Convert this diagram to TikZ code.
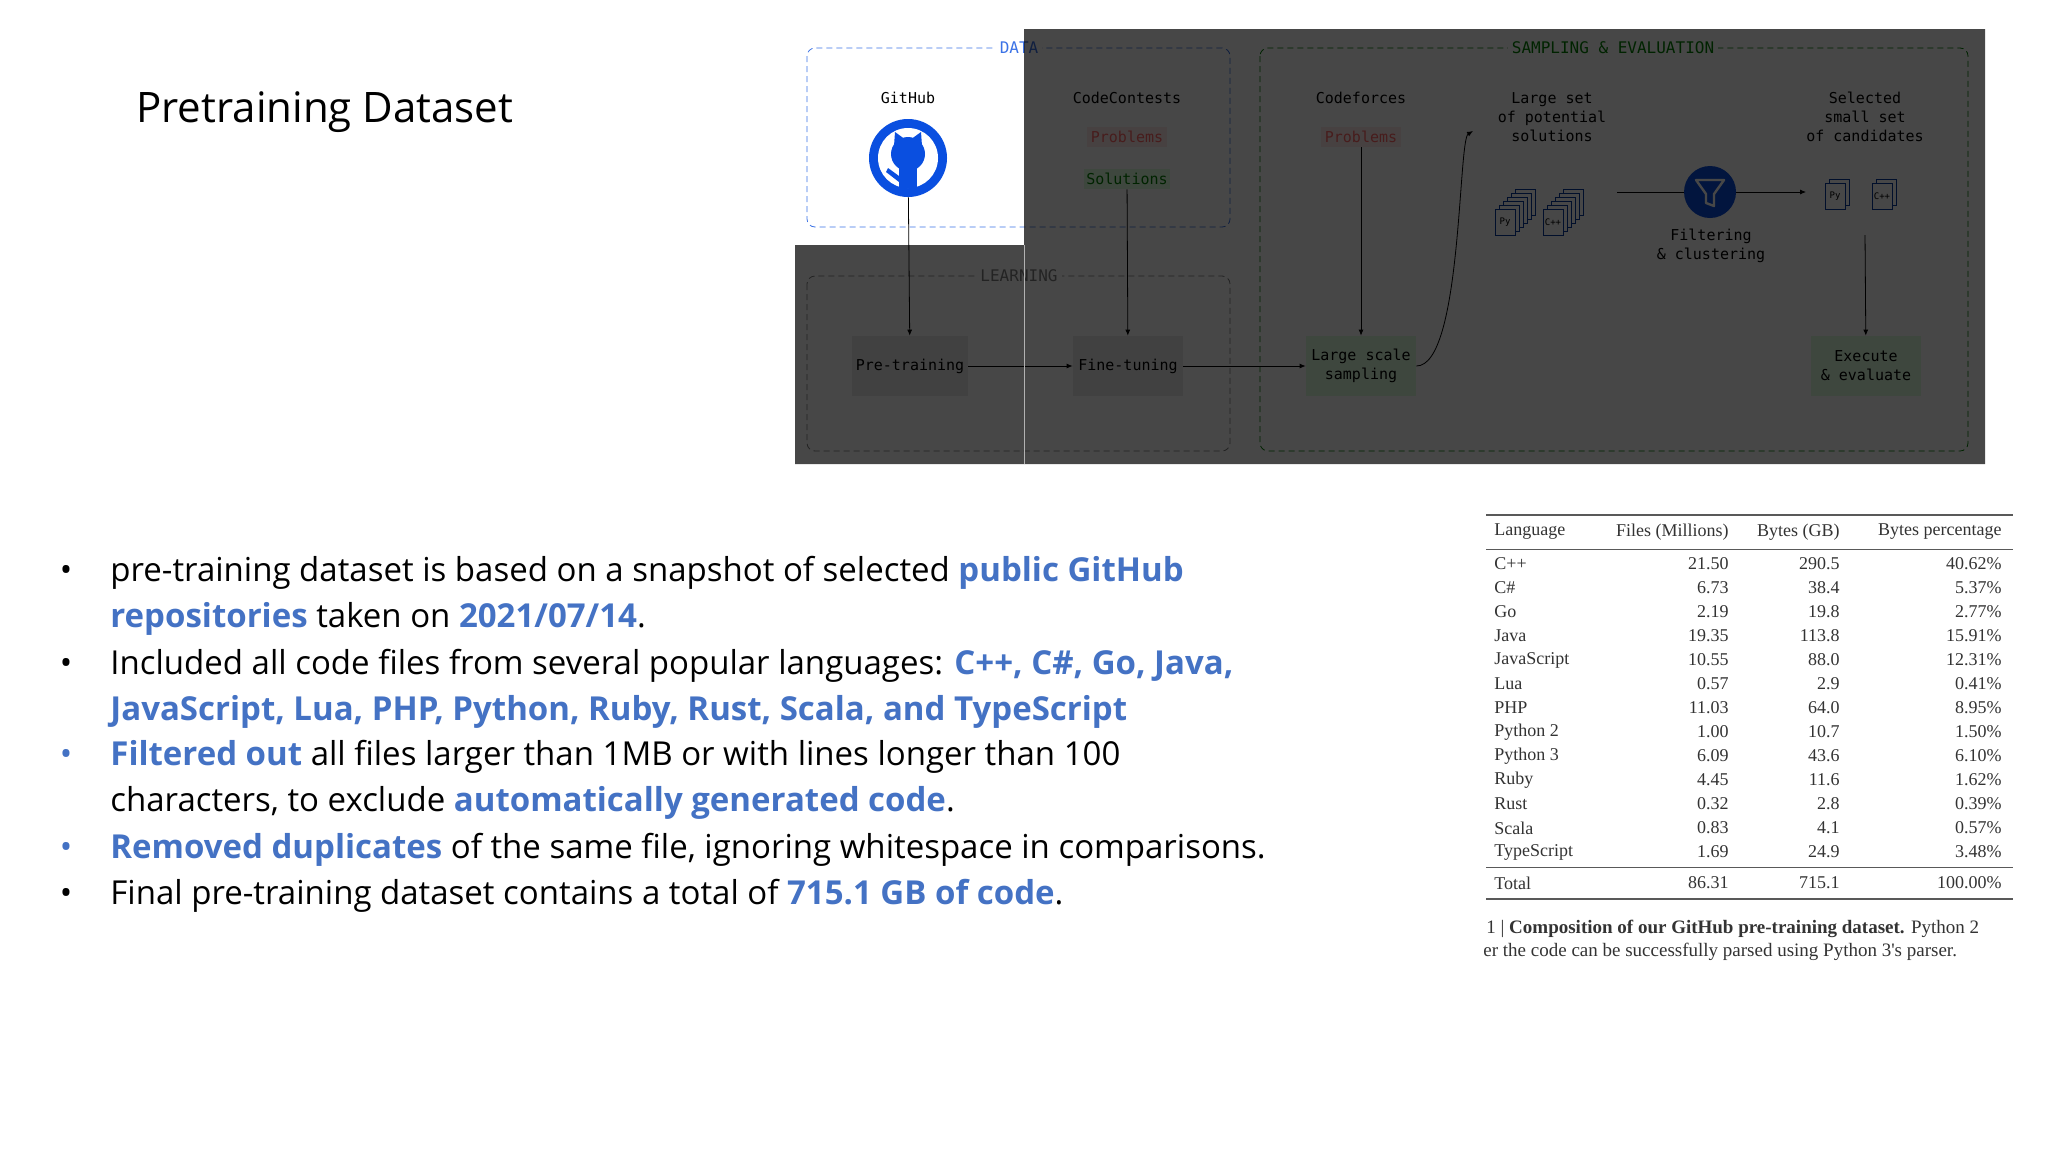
\documentclass[tikz,border=0pt]{standalone}
\usepackage{fontspec}
\setmainfont{Open Sans}
\newfontfamily\monof{DejaVu Sans Mono}
\newfontfamily\serf{Liberation Serif}
\usetikzlibrary{arrows.meta}
\definecolor{hl}{HTML}{4472C4}
\definecolor{ghb}{HTML}{0A4FE0}
\tikzset{
  x=0.5pt,y=-0.5pt,
  btxt/.style={anchor=west,inner sep=0,font=\fontsize{16.5}{20}\selectfont},
  dot/.style={anchor=center,inner sep=0,font=\fontsize{16.5}{20}\selectfont},
  mono/.style={inner sep=1pt,font=\monof\fontsize{7.5}{9.5}\selectfont,align=center},
  gbox/.style={mono,fill=gray!15,minimum width=39pt,minimum height=30pt},
  grbox/.style={mono,fill=green!12,minimum width=55pt,minimum height=30pt},
  tagbox/.style={mono,minimum width=40pt,minimum height=10pt},
  arr/.style={-{Latex[length=3pt,width=2.5pt]},thin,black},
  tab/.style={inner sep=0,text=black!80,font=\serf\fontsize{9}{10}\selectfont},
  fileS/.style={draw=ghb!70!black,fill=white,minimum width=10pt,minimum height=13pt,inner sep=0,font=\monof\fontsize{4.5}{5}\selectfont},
}
\newcommand{\hlt}[1]{\textcolor{hl}{\textbf{#1}}}
\begin{document}
\begin{tikzpicture}
\useasboundingbox (0,0) rectangle (2048,1152);
\fill[white] (0,0) rectangle (2048,1152);
\node[anchor=west,inner sep=0,font=\fontsize{21}{25}\selectfont] (title) at (136,112) {Pretraining Dataset};
% bullets
\foreach \y/\c in {573/black,666/black,757/hl,850/hl,896/black}{\node[dot,text=\c] at (66,\y) {•};}
\node[btxt] (b1) at (110,573) {pre-training dataset is based on a snapshot of selected \hlt{public GitHub}};
\node[btxt] (b1b) at (110,619) {\hlt{repositories} taken on \hlt{2021/07/14}.};
\node[btxt] (b2) at (110,666) {Included all code files from several popular languages: \hlt{C++, C\#, Go, Java,}};
\node[btxt] (b2b) at (110,712) {\hlt{JavaScript, Lua, PHP, Python, Ruby, Rust, Scala, and TypeScript}};
\node[btxt] (b3) at (110,757) {\hlt{Filtered out} all files larger than 1MB or with lines longer than 100};
\node[btxt] (b3b) at (110,803) {characters, to exclude \hlt{automatically generated code}.};
\node[btxt] (b4) at (110,850) {\hlt{Removed duplicates} of the same file, ignoring whitespace in comparisons.};
\node[btxt] (b5) at (110,896) {Final pre-training dataset contains a total of \hlt{715.1 GB of code}.};

% ===== diagram =====
\draw[ghb!80,densely dashed,rounded corners=4] (807,48) rectangle (1230,227);
\node[fill=white,inner sep=2pt,text=ghb!80,font=\monof\fontsize{8}{9}\selectfont] (dlab) at (1019,48) {DATA};
\draw[gray,densely dashed,rounded corners=4] (807,276) rectangle (1230,451);
\node[fill=white,inner sep=2pt,text=gray,font=\monof\fontsize{8}{9}\selectfont] (llab) at (1019,276) {LEARNING};
\draw[green!50!black,densely dashed,rounded corners=4] (1260,48) rectangle (1968,451);
\node[fill=white,inner sep=2pt,text=green!50!black,font=\monof\fontsize{8}{9}\selectfont] (slab) at (1613,48) {SAMPLING \& EVALUATION};

\node[mono] (gh) at (908,98) {GitHub};
\node[circle,fill=ghb,minimum size=39pt,inner sep=0] (ghi) at (908,158) {};
\fill[white] (908,158) circle (30);
\fill[ghb] (908,154) circle (17);
\fill[ghb] (899,165) rectangle (917,188);
\fill[ghb] (894,146) -- (895,132) -- (906,140) -- cycle;
\fill[ghb] (922,146) -- (921,132) -- (910,140) -- cycle;
\fill[ghb] (899,176) -- (888,168) -- (886,172) -- (899,182) -- cycle;

\node[mono] (cc) at (1127,98) {CodeContests};
\node[tagbox,fill=red!8,text=red!60] (ccp) at (1127,137) {Problems};
\node[tagbox,fill=green!12,text=green!50!black] (ccs) at (1127,179) {Solutions};

\node[gbox,minimum width=58pt] (pre) at (910,366) {Pre-training};
\node[gbox,minimum width=55pt] (fine) at (1128,366) {Fine-tuning};
\node[mono] (cf) at (1361,98) {Codeforces};
\node[tagbox,fill=red!8,text=red!60] (cfp) at (1361,137) {Problems};
\node[grbox] (lss) at (1361,366) {Large scale\\sampling};
\node[mono] (lset) at (1552,117) {Large set\\of potential\\solutions};
\node[mono] (fil) at (1711,246) {Filtering\\\& clustering};
\node[mono] (sel) at (1865,117) {Selected\\small set\\of candidates};
\node[grbox] (exe) at (1866,366) {Execute\\\& evaluate};

% big stack
\foreach \i in {5,4,3,2,1,0}{
  \node[fileS] at (1505+4*\i,222-4*\i) {\ifnum\i=0 Py\fi};
  \node[fileS] (st\i) at (1553+4*\i,222-4*\i) {\ifnum\i=0 C++\fi};}
\coordinate (stk) at (1617,192);
\node[circle,fill=ghb,minimum size=26pt,inner sep=0] (filt) at (1710,192) {};
\draw[white,line width=1.2pt,line join=round] (1696,180) -- (1724,180) -- (1714,194) -- (1714,206) -- (1706,203) -- (1706,194) -- cycle;
\foreach \i in {1,0}{
  \node[fileS] at (1835+4*\i,196-4*\i) {\ifnum\i=0 Py\fi};
  \node[fileS] at (1882+4*\i,196-4*\i) {\ifnum\i=0 C++\fi};}
\coordinate (smst) at (1806,192);

\draw[arr] (ghi) -- (pre);
\draw[arr] (ccs) -- (fine);
\draw[arr] (cfp) -- (lss);
\draw[arr] (pre) -- (fine);
\draw[arr] (fine) -- (lss);
\draw[thin] (stk) -- (filt);
\draw[arr] (filt) -- (smst);
\draw[arr] (lss.east) .. controls (1462,366) and (1458,140) .. (1473,131);
\draw[arr] (1865,235) -- (exe);

% overlay
\fill[black,opacity=0.72] (1024,29) -- (1985,29) -- (1985,464) -- (795,464) -- (795,245) -- (1024,245) -- cycle;
\draw[gray!60,thin] (1024,245) -- (1024,464);

% ===== table =====
\begin{scope}
\clip (1480,500) rectangle (2048,1000);
\draw[line width=1pt,gray!70!black] (1486,515) -- (2013,515);
\draw[gray!70!black,line width=0.5pt] (1486,549) -- (2013,549);
\draw[gray!70!black,line width=0.5pt] (1486,867) -- (2013,867);
\draw[line width=1pt,gray!70!black] (1486,899) -- (2013,899);
\node[tab,anchor=west] (h1) at (1494,532) {Language};
\node[tab,anchor=east] (h2) at (1729,532) {Files (Millions)};
\node[tab,anchor=east] (h3) at (1840,532) {Bytes (GB)};
\node[tab,anchor=east] (h4) at (2002,532) {Bytes percentage};
\foreach \n/\a/\b/\c [count=\k from 0] in {C++/21.50/290.5/40.62\%,C\#/6.73/38.4/5.37\%,Go/2.19/19.8/2.77\%,Java/19.35/113.8/15.91\%,JavaScript/10.55/88.0/12.31\%,Lua/0.57/2.9/0.41\%,PHP/11.03/64.0/8.95\%,Python 2/1.00/10.7/1.50\%,Python 3/6.09/43.6/6.10\%,Ruby/4.45/11.6/1.62\%,Rust/0.32/2.8/0.39\%,Scala/0.83/4.1/0.57\%,TypeScript/1.69/24.9/3.48\%}{
  \node[tab,anchor=west] at (1494,564+24*\k) {\n};
  \node[tab,anchor=east] at (1729,564+24*\k) {\a};
  \node[tab,anchor=east] at (1840,564+24*\k) {\b};
  \node[tab,anchor=east] at (2002,564+24*\k) {\c};}
\node[tab,anchor=west] (tot) at (1494,883) {Total};
\node[tab,anchor=east] at (1729,883) {86.31};
\node[tab,anchor=east] at (1840,883) {715.1};
\node[tab,anchor=east] at (2002,883) {100.00\%};
\node[tab,anchor=west,font=\serf\fontsize{9.5}{11}\selectfont] (cap1) at (1486,929) {1 | \textbf{Composition of our GitHub pre-training dataset.} Python 2};
\node[tab,anchor=west,font=\serf\fontsize{9.5}{11}\selectfont] (cap2) at (1483,952) {er the code can be successfully parsed using Python 3's parser.};
\end{scope}
\end{tikzpicture}
\end{document}
